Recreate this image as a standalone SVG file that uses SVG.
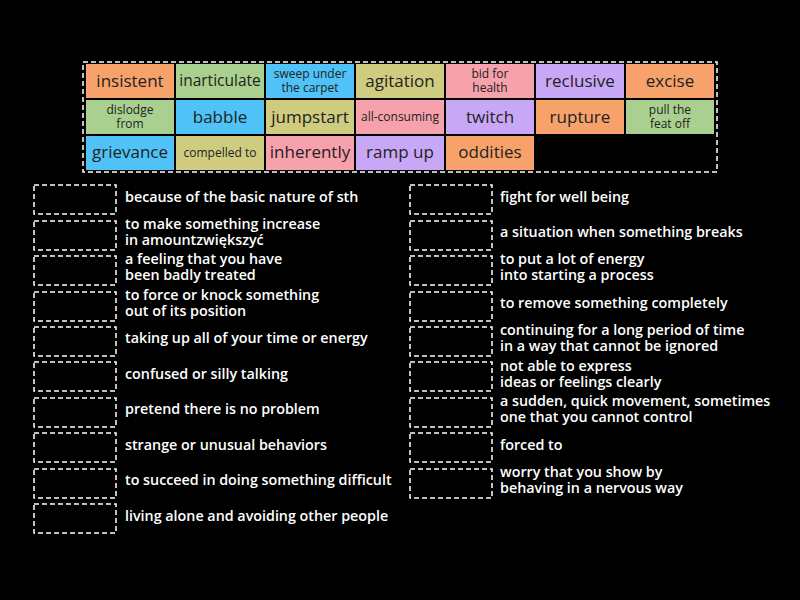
<svg xmlns="http://www.w3.org/2000/svg" width="800" height="600" viewBox="0 0 800 600">
<style>
.t{font-family:"Open Sans","Noto Sans",sans-serif;font-weight:500;fill:#222;text-anchor:middle}
.b{font-size:17px}.s{font-size:12px}
.d{fill:none;stroke:#fff;stroke-width:1.5;stroke-dasharray:5,3}
.q{font-family:"Open Sans","Noto Sans",sans-serif;font-weight:600;font-size:14.3px;fill:#fff}
.o{fill:#f6a26a}.g{fill:#a9d08f}.c{fill:#4fc3f7}.y{fill:#cfcc80}.p{fill:#f7a1ad}.v{fill:#c9a7f7}
</style>
<rect width="800" height="600" fill="#000"/>
<rect class="d" x="83" y="62" width="634" height="110"/>
<g id="tiles">
<g id="t1"><rect class="o" x="86" y="64" width="88" height="34"/><text class="t b" x="130" y="87">insistent</text></g>
<g id="t2"><rect class="g" x="176" y="64" width="88" height="34"/><text class="t" x="220" y="86" style="font-size:15.5px">inarticulate</text></g>
<g id="t3"><rect class="c" x="266" y="64" width="88" height="34"/><text class="t s" x="310" y="78">sweep under</text><text class="t s" x="310" y="92">the carpet</text></g>
<g id="t4"><rect class="y" x="356" y="64" width="88" height="34"/><text class="t b" x="400" y="87">agitation</text></g>
<g id="t5"><rect class="p" x="446" y="64" width="88" height="34"/><text class="t s" x="490" y="78">bid for</text><text class="t s" x="490" y="92">health</text></g>
<g id="t6"><rect class="v" x="536" y="64" width="88" height="34"/><text class="t b" x="580" y="87">reclusive</text></g>
<g id="t7"><rect class="o" x="626" y="64" width="88" height="34"/><text class="t b" x="670" y="87">excise</text></g>
<g id="t8"><rect class="g" x="86" y="100" width="88" height="34"/><text class="t s" x="130" y="114">dislodge</text><text class="t s" x="130" y="128">from</text></g>
<g id="t9"><rect class="c" x="176" y="100" width="88" height="34"/><text class="t b" x="220" y="123">babble</text></g>
<g id="t10"><rect class="y" x="266" y="100" width="88" height="34"/><text class="t b" x="310" y="123">jumpstart</text></g>
<g id="t11"><rect class="p" x="356" y="100" width="88" height="34"/><text class="t s" x="400" y="121">all-consuming</text></g>
<g id="t12"><rect class="v" x="446" y="100" width="88" height="34"/><text class="t b" x="490" y="123">twitch</text></g>
<g id="t13"><rect class="o" x="536" y="100" width="88" height="34"/><text class="t b" x="580" y="123">rupture</text></g>
<g id="t14"><rect class="g" x="626" y="100" width="88" height="34"/><text class="t s" x="670" y="114">pull the</text><text class="t s" x="670" y="128">feat off</text></g>
<g id="t15"><rect class="c" x="86" y="136" width="88" height="34"/><text class="t b" x="130" y="158">grievance</text></g>
<g id="t16"><rect class="y" x="176" y="136" width="88" height="34"/><text class="t s" x="220" y="157">compelled to</text></g>
<g id="t17"><rect class="p" x="266" y="136" width="88" height="34"/><text class="t b" x="310" y="158">inherently</text></g>
<g id="t18"><rect class="v" x="356" y="136" width="88" height="34"/><text class="t b" x="400" y="158">ramp up</text></g>
<g id="t19"><rect class="o" x="446" y="136" width="88" height="34"/><text class="t b" x="490" y="158">oddities</text></g>
</g>
<g id="left">
<rect class="d" x="34" y="185" width="82" height="29"/><text class="q" x="125" y="202">because of the basic nature of sth</text>
<rect class="d" x="34" y="221" width="82" height="29"/><text class="q" x="125" y="229">to make something increase</text><text class="q" x="125" y="245">in amountzwiększyć</text>
<rect class="d" x="34" y="256" width="82" height="29"/><text class="q" x="125" y="264">a feeling that you have</text><text class="q" x="125" y="280">been badly treated</text>
<rect class="d" x="34" y="292" width="82" height="29"/><text class="q" x="125" y="300">to force or knock something</text><text class="q" x="125" y="316">out of its position</text>
<rect class="d" x="34" y="327" width="82" height="29"/><text class="q" x="125" y="343">taking up all of your time or energy</text>
<rect class="d" x="34" y="362" width="82" height="29"/><text class="q" x="125" y="379">confused or silly talking</text>
<rect class="d" x="34" y="398" width="82" height="29"/><text class="q" x="125" y="414">pretend there is no problem</text>
<rect class="d" x="34" y="433" width="82" height="29"/><text class="q" x="125" y="450">strange or unusual behaviors</text>
<rect class="d" x="34" y="469" width="82" height="29"/><text class="q" x="125" y="485">to succeed in doing something difficult</text>
<rect class="d" x="34" y="504" width="82" height="29"/><text class="q" x="125" y="521">living alone and avoiding other people</text>
</g>
<g id="right">
<rect class="d" x="410" y="185" width="82" height="29"/><text class="q" x="500" y="202">fight for well being</text>
<rect class="d" x="410" y="221" width="82" height="29"/><text class="q" x="500" y="237">a situation when something breaks</text>
<rect class="d" x="410" y="256" width="82" height="29"/><text class="q" x="500" y="264">to put a lot of energy</text><text class="q" x="500" y="280">into starting a process</text>
<rect class="d" x="410" y="292" width="82" height="29"/><text class="q" x="500" y="308">to remove something completely</text>
<rect class="d" x="410" y="327" width="82" height="29"/><text class="q" x="500" y="335">continuing for a long period of time</text><text class="q" x="500" y="351">in a way that cannot be ignored</text>
<rect class="d" x="410" y="362" width="82" height="29"/><text class="q" x="500" y="371">not able to express</text><text class="q" x="500" y="387">ideas or feelings clearly</text>
<rect class="d" x="410" y="398" width="82" height="29"/><text class="q" x="500" y="406">a sudden, quick movement, sometimes</text><text class="q" x="500" y="422">one that you cannot control</text>
<rect class="d" x="410" y="433" width="82" height="29"/><text class="q" x="500" y="450">forced to</text>
<rect class="d" x="410" y="469" width="82" height="29"/><text class="q" x="500" y="477">worry that you show by</text><text class="q" x="500" y="493">behaving in a nervous way</text>
</g>
</svg>
